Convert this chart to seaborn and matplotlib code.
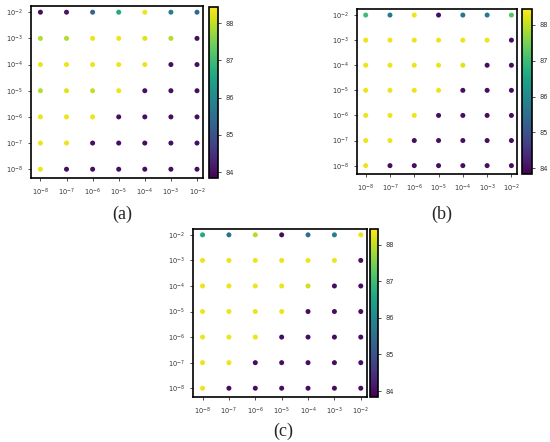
import numpy as np
import pandas as pd
import matplotlib
matplotlib.use('Agg')
import matplotlib.pyplot as plt
import seaborn as sns
from matplotlib.colors import Normalize
from matplotlib.cm import ScalarMappable

# grid exponents (x: 1e-8 .. 1e-2, rows listed from top y=1e-2 down to 1e-8)
x_exp = [-8, -7, -6, -5, -4, -3, -2]
y_exp = [-2, -3, -4, -5, -6, -7, -8]

# accuracy, one row per y value (top to bottom)
acc_a = [
    [84.0, 84.1, 85.3, 86.6, 88.3, 85.8, 85.4],
    [87.9, 87.9, 88.3, 88.3, 88.2, 87.9, 84.0],
    [88.3, 88.3, 88.3, 88.3, 88.3, 84.0, 84.0],
    [87.9, 88.2, 88.0, 88.3, 84.0, 84.0, 84.0],
    [88.3, 88.3, 88.3, 84.0, 84.0, 84.0, 84.0],
    [88.3, 88.3, 84.0, 84.0, 84.0, 84.0, 84.0],
    [88.3, 84.0, 84.0, 84.0, 84.0, 84.0, 84.0],
]
acc_b = [
    [87.0, 85.7, 88.3, 84.0, 85.6, 85.7, 87.2],
    [88.3, 88.3, 88.3, 88.3, 88.3, 88.3, 84.0],
    [88.3, 88.3, 88.3, 88.3, 88.2, 84.0, 84.0],
    [88.3, 88.3, 88.3, 88.3, 84.0, 84.0, 84.0],
    [88.3, 88.3, 88.3, 84.0, 84.0, 84.0, 84.0],
    [88.3, 88.3, 84.0, 84.0, 84.0, 84.0, 84.0],
    [88.3, 84.0, 84.0, 84.0, 84.0, 84.0, 84.0],
]
acc_c = [
    [86.6, 85.6, 87.9, 84.0, 85.5, 85.8, 88.3],
    [88.3, 88.3, 88.3, 88.3, 88.3, 88.3, 84.0],
    [88.3, 88.3, 88.3, 88.3, 88.1, 84.0, 84.0],
    [88.3, 88.3, 88.3, 88.3, 84.0, 84.0, 84.0],
    [88.3, 88.3, 88.3, 84.0, 84.0, 84.0, 84.0],
    [88.3, 88.3, 84.0, 84.0, 84.0, 84.0, 84.0],
    [88.3, 84.0, 84.0, 84.0, 84.0, 84.0, 84.0],
]
panel_labels = ['(a)', '(b)', '(c)']
cbar_ticks = [84, 85, 86, 87, 88]


def to_frame(acc):
    rows = []
    for i, ye in enumerate(y_exp):
        for j, xe in enumerate(x_exp):
            rows.append({'x': 10.0 ** xe, 'y': 10.0 ** ye, 'acc': acc[i][j]})
    return pd.DataFrame(rows)


sns.set_style('white')
norm = Normalize(vmin=83.84, vmax=88.43)

fig = plt.figure(figsize=(5.5, 4.42), dpi=100)

# [axes rect, colorbar rect, label position]
layout = [
    ([0.0564, 0.597, 0.3127, 0.389], [0.380, 0.597, 0.0164, 0.387], (0.222, 0.514)),
    ([0.649, 0.606, 0.291, 0.373], [0.949, 0.606, 0.018, 0.373], (0.804, 0.514)),
    ([0.351, 0.102, 0.316, 0.380], [0.673, 0.102, 0.0145, 0.380], (0.515, 0.024)),
]

for acc, (rect, crect, lpos), lab in zip([acc_a, acc_b, acc_c], layout, panel_labels):
    ax = fig.add_axes(rect)
    df = to_frame(acc)
    sns.scatterplot(data=df, x='x', y='y', hue='acc', palette='viridis',
                    hue_norm=norm, s=13, linewidth=0, legend=False, ax=ax)
    ax.set_xscale('log')
    ax.set_yscale('log')
    ax.set_xlim(10 ** -8.36, 10 ** -1.77)
    ax.set_ylim(10 ** -8.34, 10 ** -1.77)
    ax.set_xticks([10.0 ** e for e in x_exp])
    ax.set_yticks([10.0 ** e for e in y_exp])
    ax.minorticks_off()
    ax.set_xlabel('')
    ax.set_ylabel('')
    ax.tick_params(labelsize=4.8, colors='#333333', length=2, width=0.6,
                   direction='out', pad=4, bottom=True, left=True)
    for sp in ax.spines.values():
        sp.set_color('black')
        sp.set_linewidth(1.2)

    cax = fig.add_axes(crect)
    cb = fig.colorbar(ScalarMappable(norm=norm, cmap='viridis'), cax=cax)
    cb.set_ticks(cbar_ticks)
    cb.ax.tick_params(labelsize=4.8, colors='#333333', length=2, width=0.6)
    cb.outline.set_linewidth(1.2)
    cb.outline.set_edgecolor('black')

    fig.text(lpos[0], lpos[1], lab, ha='center', va='center',
             fontsize=13, family='Liberation Serif')

plt.savefig('out.png', dpi=100)
